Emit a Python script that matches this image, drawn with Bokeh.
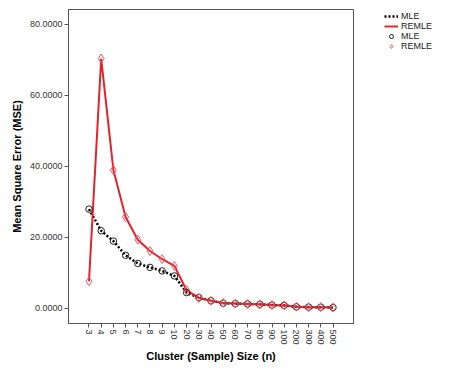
from bokeh.plotting import figure
from bokeh.models import FactorRange, Range1d, NumeralTickFormatter, Legend, LegendItem, FixedTicker
from bokeh.embed import file_html
from bokeh.resources import INLINE

sizes = ["3", "4", "5", "6", "7", "8", "9", "10", "20", "30", "40", "50",
         "60", "70", "80", "90", "100", "200", "300", "400", "500"]
mle = [27.9, 21.8, 18.9, 14.9, 12.6, 11.5, 10.5, 9.1, 4.4, 3.0, 2.1, 1.4,
       1.3, 1.2, 1.1, 0.9, 0.8, 0.4, 0.3, 0.3, 0.2]
remle = [7.6, 70.3, 38.9, 25.7, 19.3, 16.1, 13.8, 11.9, 5.1, 2.9, 2.1, 1.5,
         1.3, 1.2, 1.1, 0.9, 0.8, 0.4, 0.3, 0.3, 0.2]
yticks = [0, 20, 40, 60, 80]

FONT = "Liberation Sans"
DIAMOND_RED = "#ee5a64"

p = figure(frame_width=285, frame_height=314,
           x_range=FactorRange(*sizes, range_padding=1.18, range_padding_units="absolute"),
           y_range=Range1d(-4.3, 84.1),
           output_backend="svg", toolbar_location=None,
           min_border_left=68, min_border_right=100, min_border_top=9, min_border_bottom=45)

p.xgrid.visible = False
p.ygrid.visible = False
p.outline_line_color = "#555555"
p.outline_line_width = 1
p.background_fill_color = "white"
p.border_fill_color = "white"

l_mle = p.line(sizes, mle, line_color="black", line_width=2.5, line_dash="2 2")
l_remle = p.line(sizes, remle, line_color="#e0242c", line_width=2)
s_mle = p.scatter(sizes, mle, marker="circle", size=6.5, line_color="#222222",
                  fill_color=None, line_width=1)
s_remle = p.scatter(sizes, remle, marker="diamond", size=9,
                    line_color=DIAMOND_RED, fill_color=None, line_width=1)

p.yaxis.ticker = FixedTicker(ticks=yticks)
p.yaxis.formatter = NumeralTickFormatter(format="0.0000")
for ax in (p.xaxis[0], p.yaxis[0]):
    ax.major_label_text_font = FONT
    ax.major_label_text_font_size = "9px"
    ax.major_label_text_color = "#333333"
    ax.axis_label_text_font = FONT
    ax.axis_label_text_font_size = "11px"
    ax.axis_label_text_font_style = "bold"
    ax.axis_label_text_color = "black"
    ax.major_tick_out = 4
    ax.major_tick_in = 0
    ax.minor_tick_out = 0
    ax.minor_tick_in = 0
    ax.axis_line_color = "#555555"
    ax.major_tick_line_color = "#555555"

p.yaxis.axis_label = "Mean Square Error (MSE)"
p.yaxis.axis_label_standoff = 4
p.yaxis.major_label_standoff = 2
p.xaxis.axis_label = "Cluster (Sample) Size (n)"
p.xaxis.major_label_orientation = -1.5708
p.xaxis.major_label_standoff = 2
p.xaxis.axis_label_standoff = 2

legend = Legend(items=[
    LegendItem(label="MLE", renderers=[l_mle]),
    LegendItem(label="REMLE", renderers=[l_remle]),
    LegendItem(label="MLE", renderers=[s_mle]),
    LegendItem(label="REMLE", renderers=[s_remle]),
], location=(31, 272))
legend.label_text_font = FONT
legend.label_text_font_size = "9px"
legend.label_text_color = "#222222"
legend.label_height = 10
legend.glyph_height = 10
legend.glyph_width = 14
legend.label_standoff = 3
legend.spacing = 0
legend.padding = 1
legend.margin = 0
legend.border_line_color = None
legend.background_fill_alpha = 0
p.add_layout(legend, "right")

open("out.html", "w").write(file_html(p, INLINE))
